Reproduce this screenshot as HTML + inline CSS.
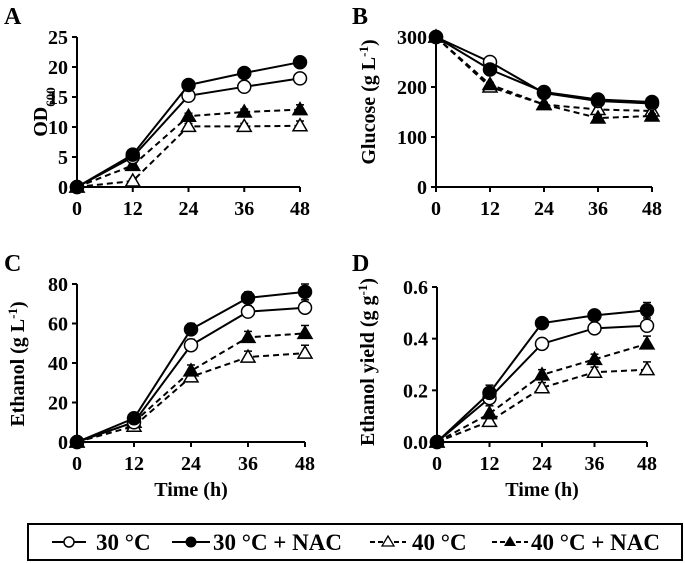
<!DOCTYPE html>
<html><head><meta charset="utf-8"><style>
html,body{margin:0;padding:0;background:#fff;}
svg{display:block;font-family:"Liberation Serif",serif;font-weight:bold;}
</style></head><body>
<svg id="fig" width="685" height="563" viewBox="0 0 685 563" xmlns="http://www.w3.org/2000/svg">
<g>
<rect x="28" y="524" width="654" height="36" fill="none" stroke="#000" stroke-width="2"/>
<g><line x1="52" y1="542" x2="86" y2="542" stroke="#000" stroke-width="2"/><circle cx="69" cy="542" r="5" fill="#fff" stroke="#000" stroke-width="1.5"/><text x="96" y="550" font-size="23">30 °C</text></g>
<g><line x1="172" y1="542" x2="210" y2="542" stroke="#000" stroke-width="2"/><circle cx="191" cy="542" r="5.5" fill="#000"/><text x="213" y="550" font-size="23">30 °C + NAC</text></g>
<g><line x1="370" y1="542" x2="406" y2="542" stroke="#000" stroke-width="2" stroke-dasharray="5,3"/><polygon points="388,536 394,546 382,546" fill="#fff" stroke="#000" stroke-width="1.3"/><text x="412" y="550" font-size="23">40 °C</text></g>
<g><line x1="492" y1="542" x2="528" y2="542" stroke="#000" stroke-width="2" stroke-dasharray="5,3"/><polygon points="510,536 516,546 504,546" fill="#000"/><text x="531" y="550" font-size="23">40 °C + NAC</text></g>
</g>
</svg>
<script>
const times=[0,12,24,36,48];
const seriesNames=['30c','30c-nac','40c','40c-nac'];
const odA30=[0,5,15.2,16.7,18.1];
const odA30N=[0,5.4,17,19,20.8];
const odA40=[0,1,10.1,10.1,10.2];
const odA40N=[0,3.6,11.8,12.5,12.9];
const odErr=[0,0.3,0.5,0.5,0.8];
const gluB30=[300,250,188,172,167];
const gluB30N=[300,235,190,175,170];
const gluB40=[300,200,165,155,152];
const gluB40N=[300,205,165,138,142];
const gluErr=[0,4,4,4,4];
const ethC30=[0,10,49,66,68];
const ethC30N=[0,12,57,73,76];
const ethC40=[0,8,33,43,45];
const ethC40N=[0,10,36,53,55];
const ethErr=[0,1,3,3,4];
const yldD30=[0,0.17,0.38,0.44,0.45];
const yldD30N=[0,0.19,0.46,0.49,0.51];
const yldD40=[0,0.08,0.21,0.27,0.28];
const yldD40N=[0,0.11,0.26,0.32,0.38];
const yldErr=[0,0.03,0.02,0.02,0.03];
const ticksA=[0,5,10,15,20,25];
const ticksB=[0,100,200,300];
const ticksC=[0,20,40,60,80];
const ticksD=[0,0.2,0.4,0.6];
const NS='http://www.w3.org/2000/svg';
const svg=document.getElementById('fig');
function mk(tag,attrs,parent){const e=document.createElementNS(NS,tag);for(const k in attrs)e.setAttribute(k,attrs[k]);(parent||svg).appendChild(e);return e;}
function panel(p){
  const g=mk('g',{});
  
  
  const sx=t=>p.x0+(t/48)*(p.x1-p.x0);
  const sy=v=>p.yb-(v/p.max)*(p.yb-p.yt);
  const L=mk('text',{x:p.lx,y:p.ly,'font-size':24},g);L.textContent=p.id.toUpperCase();
  
  
  const ya=mk('line',{x1:p.x0,y1:p.yt,x2:p.x0,y2:p.yb,stroke:'#000','stroke-width':2},g);
  
  
  const xa=mk('line',{x1:p.x0,y1:p.yb,x2:p.x1,y2:p.yb,stroke:'#000','stroke-width':2},g);
  
  
  p.ticks.forEach(v=>{
    mk('line',{x1:p.x0-5,y1:sy(v),x2:p.x0,y2:sy(v),stroke:'#000','stroke-width':2},g);
    const t=mk('text',{x:p.x0-9,y:sy(v)+7,'font-size':20,'text-anchor':'end'},g);
    t.textContent=p.fmt(v);
    
    
  });
  times.forEach(tm=>{
    mk('line',{x1:sx(tm),y1:p.yb,x2:sx(tm),y2:p.yb+5,stroke:'#000','stroke-width':2},g);
    const t=mk('text',{x:sx(tm),y:p.yb+28,'font-size':20,'text-anchor':'middle'},g);
    t.textContent=tm;
    
    
  });
  const yt=mk('text',{x:0,y:0,'font-size':20,'text-anchor':'middle',transform:`translate(${p.ytx},${p.yty}) rotate(-90)`},g);
  yt.innerHTML=p.ytitle;
  
  
  if(p.xtitle){const xt=mk('text',{x:(p.x0+p.x1)/2,y:p.yb+54,'font-size':20,'text-anchor':'middle'},g);xt.textContent='Time (h)';
    
    }
  const order=[2,3,0,1];
  order.forEach(i=>{
    const vals=p.series[i];
    const dashed=i>=2;
    const pts=vals.map((v,k)=>sx(times[k])+','+sy(v)).join(' ');
    const pl=mk('polyline',{points:pts,fill:'none',stroke:'#000','stroke-width':2,'stroke-dasharray':dashed?'6,4':'none'},g);
    
    
    vals.forEach((v,k)=>{
      const x=sx(times[k]),y=sy(v),e=p.err[k];
      if(e>0){const yy=sy(v+e);mk('line',{x1:x,y1:y,x2:x,y2:yy,stroke:'#000','stroke-width':1.5},g);mk('line',{x1:x-4,y1:yy,x2:x+4,y2:yy,stroke:'#000','stroke-width':1.5},g);}
      let m;
      if(i<2) m=mk('circle',{cx:x,cy:y,r:6.5,fill:i==1?'#000':'#fff',stroke:'#000','stroke-width':1.5},g);
      else m=mk('polygon',{points:`${x},${y-7} ${x+7},${y+5} ${x-7},${y+5}`,fill:i==3?'#000':'#fff',stroke:'#000','stroke-width':1.5},g);
      
      
    });
  });
}
panel({id:'a',x0:77,x1:300,yt:37,yb:187,max:25,ticks:ticksA,fmt:v=>v,series:[odA30,odA30N,odA40,odA40N],err:odErr,lx:4,ly:24,ytx:47,yty:112,ytitle:'OD<tspan font-size="13" baseline-shift="sub">600</tspan>'});
panel({id:'b',x0:436,x1:652,yt:37,yb:187,max:300,ticks:ticksB,fmt:v=>v,series:[gluB30,gluB30N,gluB40,gluB40N],err:gluErr,lx:352,ly:24,ytx:375,yty:102,ytitle:'Glucose (g L<tspan font-size="13" baseline-shift="super">-1</tspan>)'});
panel({id:'c',x0:77,x1:305,yt:284,yb:442,max:80,ticks:ticksC,fmt:v=>v,series:[ethC30,ethC30N,ethC40,ethC40N],err:ethErr,lx:4,ly:271,ytx:24,yty:364,xtitle:true,ytitle:'Ethanol (g L<tspan font-size="13" baseline-shift="super">-1</tspan>)'});
panel({id:'d',x0:437,x1:647,yt:287,yb:442,max:0.6,ticks:ticksD,fmt:v=>v.toFixed(1),series:[yldD30,yldD30N,yldD40,yldD40N],err:yldErr,lx:352,ly:271,ytx:374,yty:362,xtitle:true,ytitle:'Ethanol yield (g g<tspan font-size="13" baseline-shift="super">-1</tspan>)'});
</script>
</body></html>
